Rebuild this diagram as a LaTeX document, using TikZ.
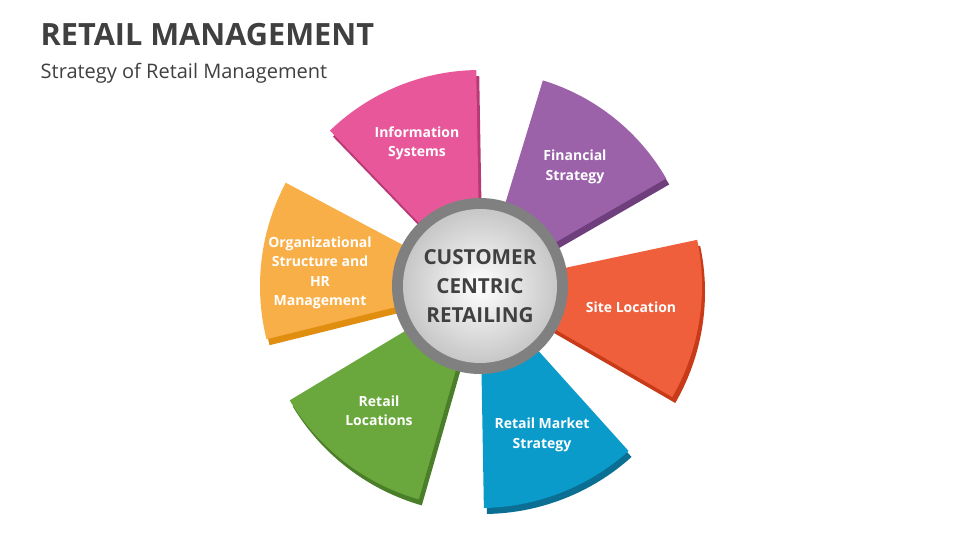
\documentclass[tikz,border=0pt]{standalone}
\usepackage{fontspec}
\setmainfont{Open Sans}
\begin{document}
\begin{tikzpicture}[x=0.75pt,y=0.75pt,
  lab/.style={text=white,font=\fontsize{10.5}{14.5}\selectfont\bfseries,align=center}]
\useasboundingbox (0,0) rectangle (960,540);
\fill[white] (0,0) rectangle (960,540);
\node[anchor=west,text=black!75,font=\fontsize{23}{28}\selectfont\bfseries] (title) at (36,505) {RETAIL MANAGEMENT};
\node[anchor=west,text=black!75,font=\fontsize{15}{18}\selectfont] (sub) at (36,467) {Strategy of Retail Management};
\coordinate (c) at (480,254);
\newcommand\sector[5]{% a1 a2 r color dark
  \fill[#5] ([shift={(3,-6)}]c) -- ++(#1:#3) arc[start angle=#1,end angle=#2,radius=#3] -- cycle;
  \fill[#4] (c) -- ++(#1:#3) arc[start angle=#1,end angle=#2,radius=#3] -- cycle;}
\definecolor{pk}{HTML}{E8579A}\definecolor{pkd}{HTML}{B83A74}
\definecolor{pu}{HTML}{9B62AA}\definecolor{pud}{HTML}{6E3F7C}
\definecolor{rd}{HTML}{F05F3C}\definecolor{rdd}{HTML}{C83A18}
\definecolor{bl}{HTML}{0A9BCB}\definecolor{bld}{HTML}{0A6F93}
\definecolor{gr}{HTML}{6AA83D}\definecolor{grd}{HTML}{4A7E28}
\definecolor{or}{HTML}{F9AF47}\definecolor{ord}{HTML}{E08E10}
\sector{91}{134}{216}{pk}{pkd}
\sector{30}{73}{215}{pu}{pud}
\sector{-30}{12}{222}{rd}{rdd}
\sector{-89}{-48}{222}{bl}{bld}
\sector{-149}{-106}{222}{gr}{grd}
\sector{152}{194}{220}{or}{ord}
\fill[black!50] (c) circle (88);
\shade[inner color=white,outer color=black!22] (c) circle (77);
\node[text=black!75,font=\fontsize{15.5}{21.5}\selectfont\bfseries,align=center] (hub) at (c) {CUSTOMER\\CENTRIC\\RETAILING};
\node[lab] (n1) at (417,397) {Information\\Systems};
\node[lab] (n2) at (575,373) {Financial\\Strategy};
\node[lab] (n3) at (631,233) {Site Location};
\node[lab] (n4) at (542,105) {Retail Market\\Strategy};
\node[lab] (n5) at (379,129) {Retail\\Locations};
\node[lab] (n6) at (320,267) {Organizational\\Structure and\\HR\\Management};
\end{tikzpicture}
\end{document}
